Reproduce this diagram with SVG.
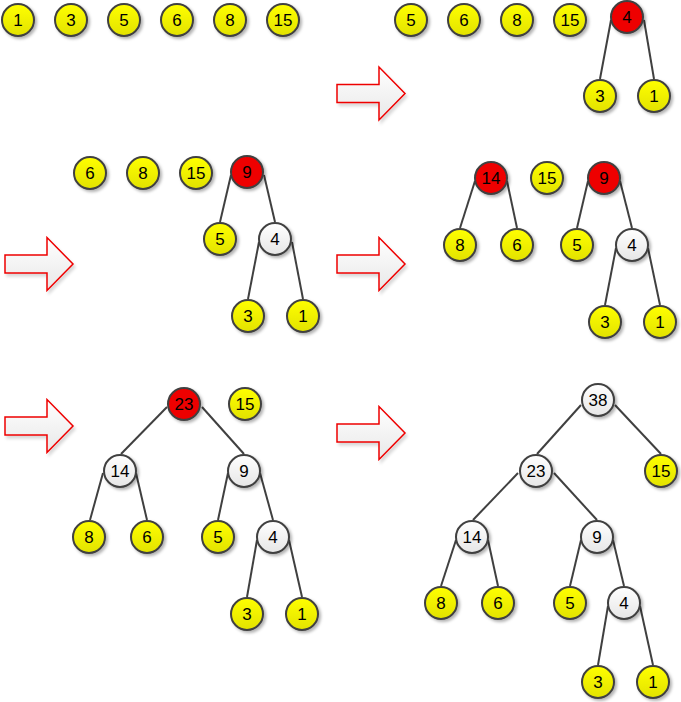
<svg xmlns="http://www.w3.org/2000/svg" xmlns:xlink="http://www.w3.org/1999/xlink" width="681" height="702" viewBox="0 0 681 702">
<style>
.n circle{stroke:#404040;stroke-width:2;filter:url(#sh)}
.y circle{fill:url(#gy)}
.r circle{fill:#ee0000}
.w circle{fill:url(#gw)}
.n text{font-family:"Liberation Sans",Arial,sans-serif;font-size:17px;fill:#000;text-anchor:middle}
#edges line{stroke:#404040;stroke-width:2}
.arrow{fill:url(#ga);stroke:#ee0000;stroke-width:1.5;filter:url(#sha)}
</style>
<defs>
<linearGradient id="gy" x1="0" y1="0" x2="0" y2="1"><stop offset="0" stop-color="#ffff00"/><stop offset="1" stop-color="#e2e200"/></linearGradient>
<linearGradient id="gw" x1="0" y1="0" x2="0" y2="1"><stop offset="0" stop-color="#ffffff"/><stop offset="1" stop-color="#e6e6e6"/></linearGradient>
<linearGradient id="ga" x1="0" y1="0" x2="0" y2="1"><stop offset="0" stop-color="#ffffff"/><stop offset="1" stop-color="#e8e8e8"/></linearGradient>
<filter id="sh" x="-30%" y="-30%" width="170%" height="170%"><feDropShadow dx="2" dy="2" stdDeviation="1.5" flood-color="#000" flood-opacity="0.3"/></filter>
<filter id="sha" x="-20%" y="-20%" width="150%" height="150%"><feDropShadow dx="2" dy="3" stdDeviation="1.5" flood-color="#000" flood-opacity="0.15"/></filter>
<path id="arr" d="M0,-9 H42 V-26.5 L68,0 L42,26.5 V9 H0 Z"/>
</defs>
<rect width="681" height="702" fill="#fff"/>
<g id="arrows">
<use xlink:href="#arr" class="arrow" transform="translate(337,93.5)"/>
<use xlink:href="#arr" class="arrow" transform="translate(5,264)"/>
<use xlink:href="#arr" class="arrow" transform="translate(337,264)"/>
<use xlink:href="#arr" class="arrow" transform="translate(5,426)"/>
<use xlink:href="#arr" class="arrow" transform="translate(337,433)"/>
</g>
<g id="edges">
<line x1="611" y1="20" x2="600" y2="79"/>
<line x1="644" y1="20" x2="654" y2="79"/>
<line x1="231" y1="175" x2="220" y2="222"/>
<line x1="264" y1="175" x2="275" y2="222"/>
<line x1="259" y1="242" x2="248" y2="299"/>
<line x1="292" y1="242" x2="303" y2="299"/>
<line x1="475" y1="181" x2="460" y2="228"/>
<line x1="507" y1="181" x2="517" y2="228"/>
<line x1="588" y1="181" x2="577" y2="228"/>
<line x1="620" y1="181" x2="632" y2="228"/>
<line x1="616" y1="248" x2="605" y2="305"/>
<line x1="648" y1="248" x2="660" y2="305"/>
<line x1="167" y1="407" x2="121" y2="454"/>
<line x1="202" y1="407" x2="244" y2="454"/>
<line x1="103" y1="473" x2="90" y2="520"/>
<line x1="136" y1="473" x2="147" y2="520"/>
<line x1="228" y1="473" x2="218" y2="520"/>
<line x1="260" y1="473" x2="273" y2="520"/>
<line x1="257" y1="540" x2="247" y2="597"/>
<line x1="289" y1="540" x2="302" y2="597"/>
<line x1="581" y1="405" x2="537" y2="454"/>
<line x1="615" y1="405" x2="661" y2="454"/>
<line x1="518" y1="473" x2="473" y2="520"/>
<line x1="554" y1="473" x2="597" y2="520"/>
<line x1="456" y1="540" x2="441" y2="586"/>
<line x1="488" y1="540" x2="498" y2="586"/>
<line x1="581" y1="540" x2="570" y2="586"/>
<line x1="613" y1="540" x2="624" y2="586"/>
<line x1="608" y1="606" x2="598" y2="665"/>
<line x1="640" y1="606" x2="653" y2="665"/>
</g>
<g id="p1-n1" class="n y"><circle cx="18" cy="20" r="16"/><text x="18" y="26">1</text></g>
<g id="p1-n3" class="n y"><circle cx="71" cy="20" r="16"/><text x="71" y="26">3</text></g>
<g id="p1-n5" class="n y"><circle cx="124" cy="20" r="16"/><text x="124" y="26">5</text></g>
<g id="p1-n6" class="n y"><circle cx="177" cy="20" r="16"/><text x="177" y="26">6</text></g>
<g id="p1-n8" class="n y"><circle cx="230" cy="20" r="16"/><text x="230" y="26">8</text></g>
<g id="p1-n15" class="n y"><circle cx="283" cy="20" r="16"/><text x="283" y="26">15</text></g>

<g id="p2-n5" class="n y"><circle cx="411" cy="20" r="16"/><text x="411" y="26">5</text></g>
<g id="p2-n6" class="n y"><circle cx="464" cy="20" r="16"/><text x="464" y="26">6</text></g>
<g id="p2-n8" class="n y"><circle cx="517" cy="20" r="16"/><text x="517" y="26">8</text></g>
<g id="p2-n15" class="n y"><circle cx="570" cy="20" r="16"/><text x="570" y="26">15</text></g>
<g id="p2-n4" class="n r"><circle cx="627" cy="17" r="16"/><text x="627" y="23">4</text></g>
<g id="p2-n3" class="n y"><circle cx="600" cy="96" r="16"/><text x="600" y="102">3</text></g>
<g id="p2-n1" class="n y"><circle cx="654" cy="96" r="16"/><text x="654" y="102">1</text></g>

<g id="p3-n6" class="n y"><circle cx="90" cy="173" r="16"/><text x="90" y="179">6</text></g>
<g id="p3-n8" class="n y"><circle cx="143" cy="173" r="16"/><text x="143" y="179">8</text></g>
<g id="p3-n15" class="n y"><circle cx="196" cy="173" r="16"/><text x="196" y="179">15</text></g>
<g id="p3-n9" class="n r"><circle cx="247" cy="172" r="16"/><text x="247" y="178">9</text></g>
<g id="p3-n5" class="n y"><circle cx="220" cy="239" r="16"/><text x="220" y="245">5</text></g>
<g id="p3-n4" class="n w"><circle cx="275" cy="239" r="16"/><text x="275" y="245">4</text></g>
<g id="p3-n3" class="n y"><circle cx="248" cy="316" r="16"/><text x="248" y="322">3</text></g>
<g id="p3-n1" class="n y"><circle cx="303" cy="316" r="16"/><text x="303" y="322">1</text></g>

<g id="p4-n14" class="n r"><circle cx="491" cy="178" r="16"/><text x="491" y="184">14</text></g>
<g id="p4-n15" class="n y"><circle cx="547" cy="178" r="16"/><text x="547" y="184">15</text></g>
<g id="p4-n9" class="n r"><circle cx="604" cy="178" r="16"/><text x="604" y="184">9</text></g>
<g id="p4-n8" class="n y"><circle cx="460" cy="245" r="16"/><text x="460" y="251">8</text></g>
<g id="p4-n6" class="n y"><circle cx="517" cy="245" r="16"/><text x="517" y="251">6</text></g>
<g id="p4-n5" class="n y"><circle cx="577" cy="245" r="16"/><text x="577" y="251">5</text></g>
<g id="p4-n4" class="n w"><circle cx="632" cy="245" r="16"/><text x="632" y="251">4</text></g>
<g id="p4-n3" class="n y"><circle cx="605" cy="322" r="16"/><text x="605" y="328">3</text></g>
<g id="p4-n1" class="n y"><circle cx="660" cy="322" r="16"/><text x="660" y="328">1</text></g>

<g id="p5-n23" class="n r"><circle cx="184" cy="404" r="16"/><text x="184" y="410">23</text></g>
<g id="p5-n15" class="n y"><circle cx="245" cy="404" r="16"/><text x="245" y="410">15</text></g>
<g id="p5-n14" class="n w"><circle cx="120" cy="471" r="16"/><text x="120" y="477">14</text></g>
<g id="p5-n9" class="n w"><circle cx="244" cy="471" r="16"/><text x="244" y="477">9</text></g>
<g id="p5-n8" class="n y"><circle cx="89" cy="537" r="16"/><text x="89" y="543">8</text></g>
<g id="p5-n6" class="n y"><circle cx="147" cy="537" r="16"/><text x="147" y="543">6</text></g>
<g id="p5-n5" class="n y"><circle cx="218" cy="537" r="16"/><text x="218" y="543">5</text></g>
<g id="p5-n4" class="n w"><circle cx="273" cy="537" r="16"/><text x="273" y="543">4</text></g>
<g id="p5-n3" class="n y"><circle cx="247" cy="614" r="16"/><text x="247" y="620">3</text></g>
<g id="p5-n1" class="n y"><circle cx="302" cy="614" r="16"/><text x="302" y="620">1</text></g>

<g id="p6-n38" class="n w"><circle cx="598" cy="400" r="16"/><text x="598" y="406">38</text></g>
<g id="p6-n15" class="n y"><circle cx="661" cy="471" r="16"/><text x="661" y="477">15</text></g>
<g id="p6-n23" class="n w"><circle cx="536" cy="471" r="16"/><text x="536" y="477">23</text></g>
<g id="p6-n14" class="n w"><circle cx="472" cy="537" r="16"/><text x="472" y="543">14</text></g>
<g id="p6-n9" class="n w"><circle cx="597" cy="537" r="16"/><text x="597" y="543">9</text></g>
<g id="p6-n8" class="n y"><circle cx="441" cy="603" r="16"/><text x="441" y="609">8</text></g>
<g id="p6-n6" class="n y"><circle cx="498" cy="603" r="16"/><text x="498" y="609">6</text></g>
<g id="p6-n5" class="n y"><circle cx="570" cy="603" r="16"/><text x="570" y="609">5</text></g>
<g id="p6-n4" class="n w"><circle cx="624" cy="603" r="16"/><text x="624" y="609">4</text></g>
<g id="p6-n3" class="n y"><circle cx="598" cy="682" r="16"/><text x="598" y="688">3</text></g>
<g id="p6-n1" class="n y"><circle cx="653" cy="682" r="16"/><text x="653" y="688">1</text></g>
</svg>
